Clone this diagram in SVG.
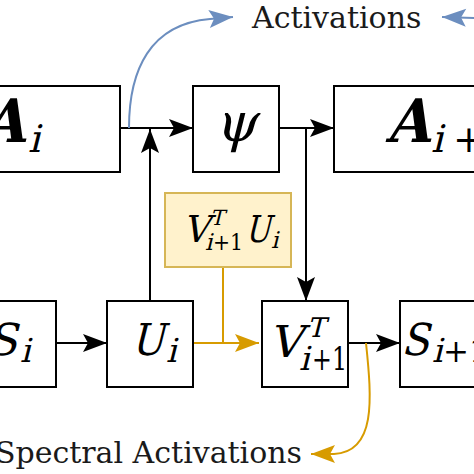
<svg xmlns="http://www.w3.org/2000/svg" width="474" height="474" viewBox="0 0 474 474">
<defs>
<style>
.box{fill:#ffffff;stroke:#000000;stroke-width:2}
.ybox{fill:#fff2cc;stroke:#d6b656;stroke-width:2}
.blk{fill:none;stroke:#000000;stroke-width:2}
.org{fill:none;stroke:#d79b00;stroke-width:2}
.blu{fill:none;stroke:#6c8ebf;stroke-width:2}
text.m{font-family:'DejaVu Serif',serif;font-style:normal;fill:#000000}
text.b{font-weight:bold}
.lbl{font-family:"DejaVu Serif",serif;font-size:30px;fill:#1a1a1a}
</style>
<marker id="ak" viewBox="-25 -10 26 20" refX="0" refY="0" markerWidth="26" markerHeight="20" markerUnits="userSpaceOnUse" orient="auto">
<path d="M0,0 L-24,-9 L-19,0 L-24,9 Z" fill="#000000"/>
</marker>
<marker id="ao" viewBox="-25 -10 26 20" refX="0" refY="0" markerWidth="26" markerHeight="20" markerUnits="userSpaceOnUse" orient="auto">
<path d="M0,0 L-24,-9 L-19,0 L-24,9 Z" fill="#d79b00"/>
</marker>
<marker id="ab" viewBox="-25 -10 26 20" refX="0" refY="0" markerWidth="26" markerHeight="20" markerUnits="userSpaceOnUse" orient="auto">
<path d="M0,0 L-24,-9 L-19,0 L-24,9 Z" fill="#6c8ebf"/>
</marker>
</defs>
<rect width="474" height="474" fill="#ffffff"/>
<g id="connectors">
<path class="blk" d="M120,128 L193,128" marker-end="url(#ak)"/>
<path class="blk" d="M150,301 L150,129" marker-end="url(#ak)"/>
<path class="blk" d="M279,128 L334,128" marker-end="url(#ak)"/>
<path class="blk" d="M306,128 L306,301" marker-end="url(#ak)"/>
<path class="blk" d="M56,343 L107,343" marker-end="url(#ak)"/>
<path class="blk" d="M348,343 L400,343" marker-end="url(#ak)"/>
<path class="org" d="M223,267 L223,343"/>
<path class="org" d="M193,343 L259,343" marker-end="url(#ao)"/>
<path class="org" d="M366,343 C372,400 376,452 334,454 L311,454" marker-end="url(#ao)"/>
<path class="blu" d="M129,128 C129,70 150,24 210,19 L233,17" marker-end="url(#ab)"/>
<path class="blu" d="M476,18 L442,17" marker-end="url(#ab)"/>
</g>
<g id="node-Ai" font-family="DejaVu Serif, serif">
<rect class="box" x="-10" y="86" width="130" height="86"/>
<text class="m b" font-family="DejaVu Serif, serif" transform="translate(-19,142) skewX(-14)" font-size="60" textLength="44" lengthAdjust="spacingAndGlyphs">A</text>
<text class="m" font-family="DejaVu Serif, serif" transform="translate(28,152) skewX(-14)" font-size="38">i</text>
</g>
<g id="node-psi" font-family="DejaVu Serif, serif">
<rect class="box" x="193" y="86" width="86" height="86"/>
<text class="m" font-family="DejaVu Serif, serif" transform="translate(236,141) skewX(-14)" font-size="54" text-anchor="middle">ψ</text>
</g>
<g id="node-Ai1" font-family="DejaVu Serif, serif">
<rect class="box" x="334" y="86" width="150" height="86"/>
<text class="m b" font-family="DejaVu Serif, serif" transform="translate(386,142) skewX(-14)" font-size="60" textLength="44" lengthAdjust="spacingAndGlyphs">A</text>
<text class="m" font-family="DejaVu Serif, serif" transform="translate(431,152) skewX(-14)" font-size="38">i</text>
<text class="m" font-family="DejaVu Serif, serif" x="453" y="152" font-size="38">+1</text>
</g>
<g id="node-Si" font-family="DejaVu Serif, serif">
<rect class="box" x="-10" y="301" width="66" height="86"/>
<text class="m" font-family="DejaVu Serif, serif" transform="translate(-13,355) skewX(-14)" font-size="44">S</text>
<text class="m" font-family="DejaVu Serif, serif" transform="translate(20,362) skewX(-14)" font-size="33">i</text>
</g>
<g id="node-Ui" font-family="DejaVu Serif, serif">
<rect class="box" x="107" y="301" width="86" height="86"/>
<text class="m" font-family="DejaVu Serif, serif" transform="translate(131,355) skewX(-14)" font-size="44" textLength="33" lengthAdjust="spacingAndGlyphs">U</text>
<text class="m" font-family="DejaVu Serif, serif" transform="translate(166,362) skewX(-14)" font-size="33">i</text>
</g>
<g id="node-V" font-family="DejaVu Serif, serif">
<rect class="box" x="262" y="301" width="86" height="86"/>
<text class="m" font-family="DejaVu Serif, serif" transform="translate(269,357) skewX(-14)" font-size="44" textLength="33" lengthAdjust="spacingAndGlyphs">V</text>
<text class="m" font-family="DejaVu Serif, serif" transform="translate(307,337) skewX(-14)" font-size="27">T</text>
<text class="m" font-family="DejaVu Serif, serif" transform="translate(299,370) skewX(-14)" font-size="33">i</text>
<text class="m" font-family="DejaVu Serif, serif" x="312" y="370" font-size="31" textLength="35" lengthAdjust="spacingAndGlyphs">+1</text>
</g>
<g id="node-Si1" font-family="DejaVu Serif, serif">
<rect class="box" x="400" y="301" width="84" height="86"/>
<text class="m" font-family="DejaVu Serif, serif" transform="translate(401,355) skewX(-14)" font-size="44" textLength="28" lengthAdjust="spacingAndGlyphs">S</text>
<text class="m" font-family="DejaVu Serif, serif" transform="translate(432,362) skewX(-14)" font-size="33">i</text>
<text class="m" font-family="DejaVu Serif, serif" x="443" y="362" font-size="31">+1</text>
</g>
<g id="node-VU" font-family="DejaVu Serif, serif">
<rect class="ybox" x="165" y="193" width="126" height="74"/>
<text class="m" font-family="DejaVu Serif, serif" transform="translate(183,242) skewX(-14)" font-size="37" textLength="26" lengthAdjust="spacingAndGlyphs">V</text>
<text class="m" font-family="DejaVu Serif, serif" transform="translate(210,225) skewX(-14)" font-size="21">T</text>
<text class="m" font-family="DejaVu Serif, serif" transform="translate(205,250) skewX(-14)" font-size="23">i</text>
<text class="m" font-family="DejaVu Serif, serif" x="213" y="250" font-size="22" textLength="30" lengthAdjust="spacingAndGlyphs">+1</text>
<text class="m" font-family="DejaVu Serif, serif" transform="translate(245,242) skewX(-14)" font-size="37" textLength="25" lengthAdjust="spacingAndGlyphs">U</text>
<text class="m" font-family="DejaVu Serif, serif" transform="translate(271,248) skewX(-14)" font-size="23">i</text>
</g>
<g id="labels">
<text class="lbl" x="252" y="28">Activations</text>
<text class="lbl" x="302" y="463" text-anchor="end">Spectral Activations</text>
</g>
</svg>
